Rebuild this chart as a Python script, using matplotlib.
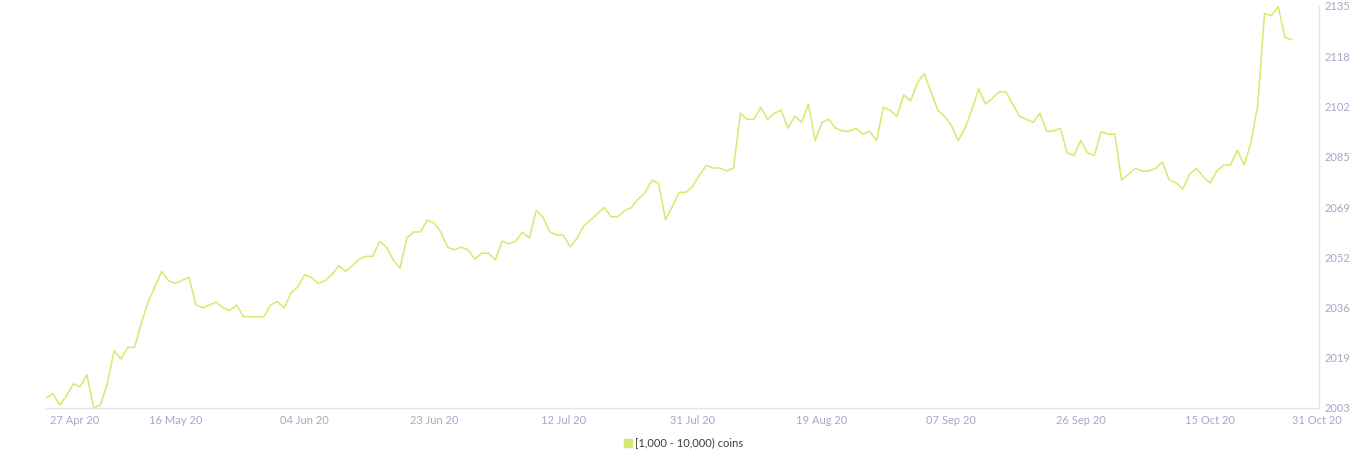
'''
Holder count chart for the [1,000 - 10,000) coins band.
'''

import numpy as np
import pandas as pd
import matplotlib
matplotlib.use('Agg')
import matplotlib.pyplot as plt
import matplotlib.transforms as mtransforms
from matplotlib.lines import Line2D

start_date = '2020-04-27'
end_date = '2020-10-31'

holders = [2006.2, 2007.8, 2004.0, 2006.9, 2010.9, 2010.0, 2013.9, 2003.1, 2004.0, 2010.9,
           2021.8, 2019.1, 2022.9, 2022.9, 2030.8, 2037.9, 2042.8, 2047.8, 2044.8, 2043.9,
           2044.9, 2045.9, 2037.0, 2035.9, 2036.8, 2037.8, 2035.9, 2035.0, 2036.8, 2033.0,
           2033.0, 2033.0, 2033.0, 2036.9, 2037.9, 2035.9, 2040.8, 2042.8, 2046.8, 2045.8,
           2043.9, 2044.8, 2046.8, 2049.7, 2047.9, 2049.7, 2051.8, 2052.8, 2052.8, 2057.7,
           2055.8, 2051.7, 2048.9, 2058.8, 2060.8, 2060.8, 2064.7, 2063.8, 2060.7, 2055.8,
           2054.9, 2055.8, 2054.9, 2051.9, 2053.8, 2053.8, 2051.6, 2057.8, 2056.9, 2057.8,
           2060.8, 2058.8, 2067.8, 2065.7, 2060.9, 2059.8, 2059.8, 2055.9, 2058.7, 2062.8,
           2064.7, 2066.8, 2068.8, 2065.8, 2065.8, 2067.8, 2068.8, 2071.7, 2073.7, 2077.8,
           2076.8, 2064.8, 2069.1, 2073.8, 2073.8, 2075.9, 2079.5, 2082.7, 2081.8, 2081.8,
           2080.8, 2081.8, 2099.8, 2097.8, 2097.8, 2101.7, 2097.8, 2099.8, 2100.8, 2094.9,
           2098.8, 2096.8, 2102.8, 2090.8, 2096.8, 2097.8, 2094.9, 2093.9, 2093.9, 2094.9,
           2092.9, 2093.9, 2090.8, 2101.7, 2100.8, 2098.8, 2105.8, 2103.8, 2109.7, 2112.8,
           2106.8, 2100.8, 2098.8, 2095.8, 2090.8, 2094.9, 2100.8, 2107.8, 2102.8, 2104.6,
           2106.8, 2106.8, 2102.8, 2098.8, 2097.8, 2096.8, 2099.8, 2093.9, 2093.9, 2094.9,
           2086.8, 2085.9, 2090.8, 2086.8, 2085.9, 2093.7, 2092.9, 2092.9, 2077.9, 2079.7,
           2081.7, 2080.8, 2080.8, 2081.7, 2083.7, 2077.9, 2076.9, 2074.9, 2079.8, 2081.7,
           2078.9, 2076.9, 2080.8, 2082.8, 2082.8, 2087.7, 2082.8, 2090.1, 2102.5, 2132.6,
           2131.8, 2134.8, 2124.7, 2123.9]

tick_dates = ['2020-04-27', '2020-05-16', '2020-06-04', '2020-06-23', '2020-07-12',
              '2020-07-31', '2020-08-19', '2020-09-07', '2020-09-26', '2020-10-15',
              '2020-10-31']
tick_labels = ['27 Apr 20', '16 May 20', '04 Jun 20', '23 Jun 20', '12 Jul 20',
               '31 Jul 20', '19 Aug 20', '07 Sep 20', '26 Sep 20', '15 Oct 20',
               '31 Oct 20']

y_ticks = [2003, 2019.5, 2036, 2052.5, 2069, 2085.5, 2102, 2118.5, 2135]
y_labels = ['2003', '2019', '2036', '2052', '2069', '2085', '2102', '2118', '2135']

series_name = '[1,000 - 10,000) coins'

LINE_COL = '#d6e96c'
AXIS_COL = '#e3e5ef'
TEXT_COL = '#a2a9c4'


def plot_holders():

    plt.rcParams['font.family'] = ['Lato', 'DejaVu Sans']

    fig = plt.figure(figsize=(13.66, 4.62), dpi=100)
    ax = fig.add_axes([46/1366., 54/462., (1319-46)/1366., (408-6)/462.])

    dates = pd.date_range(start_date, periods=len(holders), freq='D')
    ax.plot(dates, holders, color=LINE_COL, lw=1.1)

    ax.set_xlim(pd.Timestamp(start_date), pd.Timestamp(end_date))
    ax.set_ylim(y_ticks[0], y_ticks[-1])

    for s in ['top', 'left']:
        ax.spines[s].set_visible(False)
    for s in ['bottom', 'right']:
        ax.spines[s].set_color(AXIS_COL)
        ax.spines[s].set_linewidth(1)

    ax.set_xticks(pd.to_datetime(tick_dates))
    ax.set_xticklabels(tick_labels, fontsize=8, color=TEXT_COL)
    ax.tick_params(axis='x', length=0, pad=5)
    # first label sits inside the plot like the original
    xl = ax.get_xticklabels()
    xl[0].set_horizontalalignment('left')
    xl[0].set_transform(xl[0].get_transform() +
                        mtransforms.ScaledTranslation(4/100., 0, fig.dpi_scale_trans))
    xl[-1].set_transform(xl[-1].get_transform() +
                         mtransforms.ScaledTranslation(-2/100., 0, fig.dpi_scale_trans))

    ax.yaxis.tick_right()
    ax.set_yticks(y_ticks)
    ax.set_yticklabels(y_labels, fontsize=8, color=TEXT_COL)
    ax.tick_params(axis='y', length=0, pad=4)

    handle = [Line2D([0], [0], marker='s', color='none', markerfacecolor=LINE_COL,
                     markeredgecolor=LINE_COL, markersize=6)]
    fig.legend(handle, [series_name], loc='center', bbox_to_anchor=(683/1366., 1-443/462.),
               frameon=False, fontsize=8, handletextpad=0.1, handlelength=1,
               labelcolor='#3c3c3c')

    fig.savefig('out.png', dpi=100)


def main():
    plot_holders()


if __name__ == '__main__':
    main()
